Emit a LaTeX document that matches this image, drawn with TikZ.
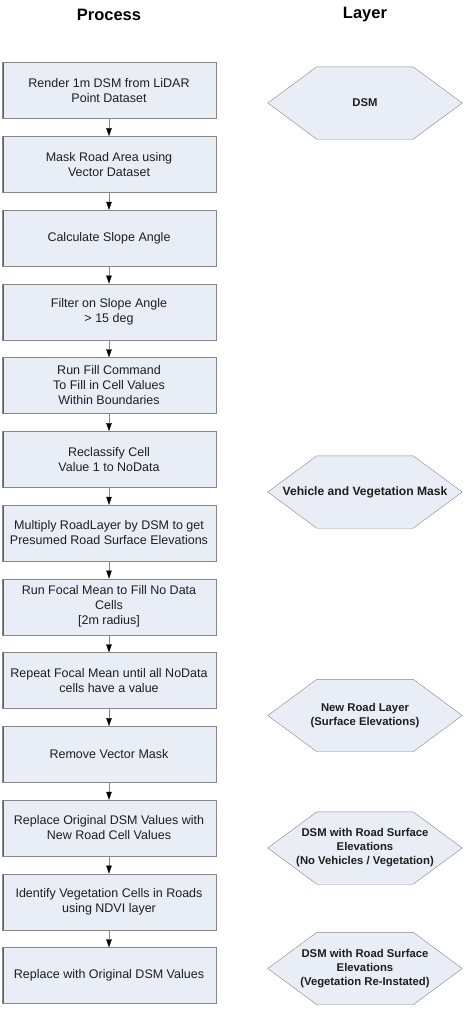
\documentclass[tikz,border=0pt]{standalone}
\usepackage{fontspec}
\setmainfont{Liberation Sans}
\usepackage{xcolor}
\usepackage{tikz}
\usetikzlibrary{arrows.meta,backgrounds}
\definecolor{boxfill}{RGB}{232,237,246}
\definecolor{boxline}{RGB}{135,135,135}
\definecolor{txt}{RGB}{30,30,30}

\begin{document}
\begin{tikzpicture}[x=1pt,y=-1pt,>={Triangle[length=8pt,width=5.5pt,color=black]},
proc/.style={draw=boxline,fill=boxfill,minimum width=214pt,minimum height=56pt,align=center,text=txt,inner sep=2pt,font=\fontsize{12.5}{15}\selectfont,
path picture={\draw[line width=3pt,boxline!70!black](path picture bounding box.north west)--(path picture bounding box.south west);}},
layer/.style={minimum width=194pt,minimum height=72pt,align=center,text=txt,inner sep=0pt,font=\bfseries\fontsize{11.3}{14}\selectfont},
hex/.style={draw=boxline,fill=boxfill},
link/.style={->,draw=boxline},
title/.style={font=\bfseries\fontsize{16.5}{20}\selectfont}]
\useasboundingbox(0,0)rectangle(474,1015);
\node[title](tp)at(109,15){Process};
\node[title](tl)at(365,15){Layer};
\node[proc](p1)at(109,90.5){Render 1m DSM from LiDAR\\Point Dataset};
\node[proc](p2)at(109,164.25){Mask Road Area using\\Vector Dataset};
\node[proc](p3)at(109,238){Calculate Slope Angle};
\node[proc](p4)at(109,311.75){Filter on Slope Angle\\> 15 deg};
\node[proc](p5)at(109,385.5){Run Fill Command\\To Fill in Cell Values\\Within Boundaries};
\node[proc](p6)at(109,459.25){Reclassify Cell\\Value 1 to NoData};
\node[proc](p7)at(109,533){Multiply RoadLayer by DSM to get\\Presumed Road Surface Elevations};
\node[proc](p8)at(109,606.75){Run Focal Mean to Fill No Data\\Cells\\{[2m radius]}};
\node[proc](p9)at(109,680.5){Repeat Focal Mean until all NoData\\cells have a value};
\node[proc](p10)at(109,754.25){Remove Vector Mask};
\node[proc](p11)at(109,828){Replace Original DSM Values with\\New Road Cell Values};
\node[proc](p12)at(109,901.75){Identify Vegetation Cells in Roads\\using NDVI layer};
\node[proc](p13)at(109,975.5){Replace with Original DSM Values};
\draw[link](p1)--(p2);
\draw[link](p2)--(p3);
\draw[link](p3)--(p4);
\draw[link](p4)--(p5);
\draw[link](p5)--(p6);
\draw[link](p6)--(p7);
\draw[link](p7)--(p8);
\draw[link](p8)--(p9);
\draw[link](p9)--(p10);
\draw[link](p10)--(p11);
\draw[link](p11)--(p12);
\draw[link](p12)--(p13);
\node[layer](l1)at(365,103){DSM};
\node[layer,font=\bfseries\fontsize{12.1}{14}\selectfont](l2)at(365,492){Vehicle and Vegetation Mask};
\node[layer](l3)at(365,715.5){New Road Layer\\(Surface Elevations)};
\node[layer](l4)at(365,848){DSM with Road Surface\\Elevations\\(No Vehicles / Vegetation)};
\node[layer](l5)at(365,968.5){DSM with Road Surface\\Elevations\\(Vegetation Re-Instated)};
\begin{scope}[on background layer]
\foreach \n in {l1,l2,l3,l4,l5}
\draw[hex](\n.west)--([xshift=49pt]\n.north west)--([xshift=-49pt]\n.north east)
--(\n.east)--([xshift=-49pt]\n.south east)--([xshift=49pt]\n.south west)--cycle;
\end{scope}
\end{tikzpicture}
\end{document}
